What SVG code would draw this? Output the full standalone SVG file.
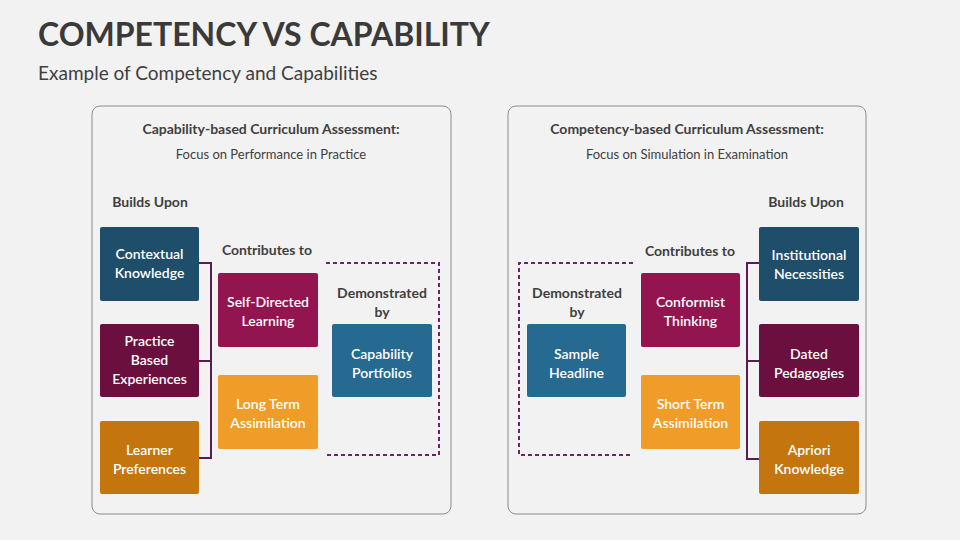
<svg xmlns="http://www.w3.org/2000/svg" width="960" height="540" viewBox="0 0 960 540">
<style>
text{font-family:Lato,"Open Sans","Liberation Sans",sans-serif}
.w{fill:#fff;font-size:14px;text-anchor:middle;font-weight:600}
.h{fill:#404040;font-size:14px;font-weight:700;text-anchor:middle}
.s{fill:#404040;font-size:13px;text-anchor:middle}
.panel{fill:#f2f2f2;stroke:#8c8c8c;stroke-width:1}
.br{fill:none;stroke:#5b1b55;stroke-width:2}
.dash{fill:none;stroke:#6b2466;stroke-width:2;stroke-dasharray:4 3}
</style>
<rect width="960" height="540" fill="#f2f2f2"/>
<text x="38" y="46" font-size="32" font-weight="700" fill="#3a3a3a" style="font-family:Lato,'Liberation Sans',sans-serif">COMPETENCY VS CAPABILITY</text>
<text x="38" y="80" font-size="19" fill="#404040">Example of Competency and Capabilities</text>
<rect class="panel" x="92" y="106" width="359" height="408" rx="8"/>
<rect class="panel" x="508" y="106" width="358" height="408" rx="8"/>
<text class="h" x="271" y="134" font-size="15">Capability-based Curriculum Assessment:</text>
<text class="s" x="271" y="159">Focus on Performance in Practice</text>
<text class="h" x="687" y="134" font-size="15">Competency-based Curriculum Assessment:</text>
<text class="s" x="687" y="159">Focus on Simulation in Examination</text>
<text class="h" x="150" y="207" font-size="15">Builds Upon</text>
<text class="h" x="806" y="207" font-size="15">Builds Upon</text>
<text class="h" x="267" y="255">Contributes to</text>
<text class="h" x="690" y="256">Contributes to</text>
<text class="h" x="382" y="298">Demonstrated</text><text class="h" x="382" y="317">by</text>
<text class="h" x="577" y="298">Demonstrated</text><text class="h" x="577" y="317">by</text>
<g id="connectors">
<path class="br" d="M199 263H211V458H199M199 361H211"/>
<path class="br" d="M759 263H747V459H759M759 361H747"/>
<path class="dash" d="M326 263H439V455H326"/>
<path class="dash" d="M633 263H519V455H633"/>
</g>
<g id="n1"><rect x="100" y="227" width="99" height="74" rx="2" fill="#1f4e6b"/><text class="w" x="149.5" y="259">Contextual</text><text class="w" x="149.5" y="278">Knowledge</text></g>
<g id="n2"><rect x="100" y="324" width="99" height="73" rx="2" fill="#6b0f3e"/><text class="w" x="149.5" y="346">Practice</text><text class="w" x="149.5" y="365">Based</text><text class="w" x="149.5" y="384">Experiences</text></g>
<g id="n3"><rect x="100" y="421" width="99" height="73" rx="2" fill="#c4750d"/><text class="w" x="149.5" y="455">Learner</text><text class="w" x="149.5" y="474">Preferences</text></g>
<g id="n4"><rect x="218" y="273" width="100" height="74" rx="2" fill="#92154f"/><text class="w" x="268" y="307">Self-Directed</text><text class="w" x="268" y="326">Learning</text></g>
<g id="n5"><rect x="218" y="375" width="100" height="74" rx="2" fill="#f09c28"/><text class="w" x="268" y="409">Long Term</text><text class="w" x="268" y="428">Assimilation</text></g>
<g id="n6"><rect x="332" y="324" width="100" height="73" rx="2" fill="#266a91"/><text class="w" x="382" y="359">Capability</text><text class="w" x="382" y="378">Portfolios</text></g>
<g id="n7"><rect x="759" y="227" width="100" height="74" rx="2" fill="#1f4e6b"/><text class="w" x="809" y="260">Institutional</text><text class="w" x="809" y="279">Necessities</text></g>
<g id="n8"><rect x="759" y="324" width="100" height="73" rx="2" fill="#6b0f3e"/><text class="w" x="809" y="359">Dated</text><text class="w" x="809" y="378">Pedagogies</text></g>
<g id="n9"><rect x="759" y="421" width="100" height="73" rx="2" fill="#c4750d"/><text class="w" x="809" y="455">Apriori</text><text class="w" x="809" y="474">Knowledge</text></g>
<g id="n10"><rect x="641" y="273" width="99" height="74" rx="2" fill="#92154f"/><text class="w" x="690.5" y="307">Conformist</text><text class="w" x="690.5" y="326">Thinking</text></g>
<g id="n11"><rect x="641" y="375" width="99" height="74" rx="2" fill="#f09c28"/><text class="w" x="690.5" y="409">Short Term</text><text class="w" x="690.5" y="428">Assimilation</text></g>
<g id="n12"><rect x="527" y="324" width="99" height="73" rx="2" fill="#266a91"/><text class="w" x="576.5" y="359">Sample</text><text class="w" x="576.5" y="378">Headline</text></g>
</svg>
